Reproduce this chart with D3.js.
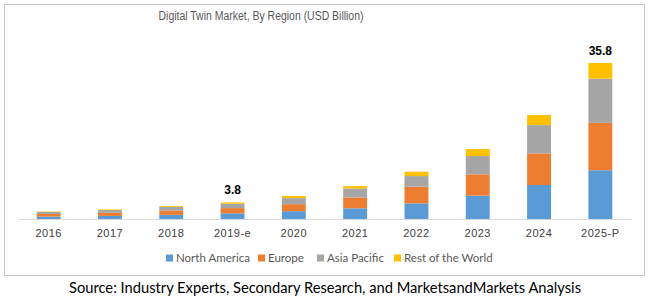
<!DOCTYPE html>
<html>
<head>
<meta charset="utf-8">
<script src="https://cdn.jsdelivr.net/npm/d3@7"></script>
<style>
  body { margin: 0; background: #fff; }
  svg { display: block; }
</style>
</head>
<body>
<svg id="chart" width="650" height="302"></svg>
<script>
// values, USD billion
const years = ["2016", "2017", "2018", "2019-e", "2020", "2021", "2022", "2023", "2024", "2025-P"];
const northAmerica = [0.55, 0.7, 0.95, 1.3, 1.8, 2.45, 3.6, 5.35, 7.8, 11.2];
const europe       = [0.6, 0.75, 1.0, 1.2, 1.6, 2.5, 3.8, 4.9, 7.25, 10.85];
const asiaPacific  = [0.45, 0.6, 0.85, 1.0, 1.4, 2.05, 2.45, 4.2, 6.5, 10.15];
const restOfWorld  = [0.1, 0.15, 0.2, 0.3, 0.5, 0.55, 1.0, 1.6, 2.3, 3.6];
const seriesNames = ["North America", "Europe", "Asia Pacific", "Rest of the World"];
const colors = ["#5b9bd5", "#ed7d31", "#a5a5a5", "#ffc000"];
const labelled = { "2019-e": "3.8", "2025-P": "35.8" };

const svg = d3.select("#chart");

const rows = years.map((y, i) => ({
    year: y,
    "North America": northAmerica[i],
    "Europe": europe[i],
    "Asia Pacific": asiaPacific[i],
    "Rest of the World": restOfWorld[i]
}));

const stacked = d3.stack().keys(seriesNames)(rows);

const x = d3.scaleBand()
    .domain(years)
    .range([18, 631])
    .paddingInner(0.61)
    .paddingOuter(0.305);

const y = d3.scaleLinear()
    .domain([0, 35.8])
    .range([219, 63]);

const color = d3.scaleOrdinal().domain(seriesNames).range(colors);

// outer frame
svg.append("rect")
    .attr("x", 4.5).attr("y", 4.5)
    .attr("width", 640).attr("height", 271)
    .attr("fill", "none")
    .attr("stroke", "#c8c8c8");

// title
svg.append("text")
    .attr("x", 261).attr("y", 20)
    .attr("text-anchor", "middle")
    .attr("font-family", "'Liberation Sans Narrow', 'Liberation Sans', Arial, sans-serif")
    .attr("font-size", 12)
    .attr("fill", "#595959")
    .attr("textLength", 205)
    .attr("lengthAdjust", "spacingAndGlyphs")
    .text("Digital Twin Market, By Region (USD Billion)");

// bars
svg.append("g")
    .selectAll("g")
    .data(stacked)
    .join("g")
    .attr("fill", d => color(d.key))
    .selectAll("rect")
    .data(d => d)
    .join("rect")
    .attr("x", d => x(d.data.year))
    .attr("y", d => y(d[1]))
    .attr("width", x.bandwidth())
    .attr("height", d => y(d[0]) - y(d[1]));

// x axis
const xAxis = svg.append("g")
    .attr("transform", "translate(0,219)")
    .call(d3.axisBottom(x).tickSize(0).tickPadding(10));
xAxis.select(".domain").attr("stroke", "#d9d9d9");
xAxis.selectAll("text")
    .attr("font-family", "'Liberation Sans', Arial, sans-serif")
    .attr("font-size", 11)
    .attr("letter-spacing", "0.5px")
    .attr("fill", "#404040");

// total labels
const last = stacked[stacked.length - 1];
svg.append("g")
    .selectAll("text")
    .data(last.filter(d => labelled[d.data.year]))
    .join("text")
    .attr("x", d => x(d.data.year) + x.bandwidth() / 2)
    .attr("y", d => y(d[1]) - 8)
    .attr("text-anchor", "middle")
    .attr("font-family", "'Liberation Sans', Arial, sans-serif")
    .attr("font-size", 12)
    .attr("font-weight", "bold")
    .attr("fill", "#000")
    .text(d => labelled[d.data.year]);

// legend
const legendX = [166, 258, 317, 394];
const legend = svg.append("g")
    .selectAll("g")
    .data(seriesNames)
    .join("g")
    .attr("transform", (d, i) => `translate(${legendX[i]},258)`);
legend.append("rect")
    .attr("x", 0).attr("y", -3.5)
    .attr("width", 7).attr("height", 7)
    .attr("fill", d => color(d));
legend.append("text")
    .attr("x", 10).attr("y", 4)
    .attr("font-family", "Lato, 'Open Sans', sans-serif")
    .attr("font-size", 11.5)
    .attr("fill", "#595959")
    .text(d => d);

// source line
svg.append("text")
    .attr("x", 325).attr("y", 293)
    .attr("text-anchor", "middle")
    .attr("font-family", "Lato, 'Open Sans', sans-serif")
    .attr("font-size", 15)
    .attr("fill", "#000")
    .attr("textLength", 512)
    .attr("lengthAdjust", "spacingAndGlyphs")
    .text("Source: Industry Experts, Secondary Research, and MarketsandMarkets Analysis");
</script>
</body>
</html>
